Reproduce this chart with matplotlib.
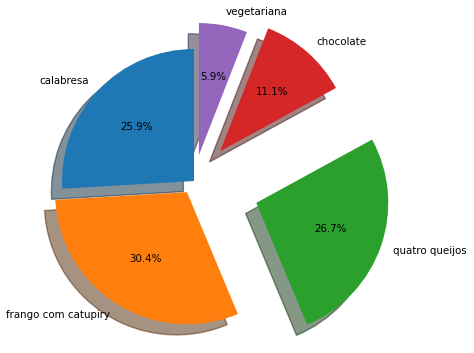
import matplotlib
matplotlib.use('Agg')
import matplotlib.pyplot as plt

# dados
sabores = ['calabresa', 'frango com catupiry', 'quatro queijos', 'chocolate', 'vegetariana']
votos = [35, 41, 36, 15, 8]
explode = (0, 0.1, 0.5, 0.3, 0.2)

fig = plt.figure(figsize=(4.74, 3.53), dpi=100)
ax = fig.add_axes([0.0612, 0.0198, 0.6962, 0.9348])

ax.pie(votos, labels=sabores, explode=explode, autopct='%1.1f%%',
       startangle=90, shadow={'ox': -0.058, 'oy': -0.058},
       textprops={'fontsize': 7.4})
ax.set_xlim(-1.25, 1.25)
ax.set_ylim(-1.25, 1.25)

fig.savefig('out.png', dpi=100)
